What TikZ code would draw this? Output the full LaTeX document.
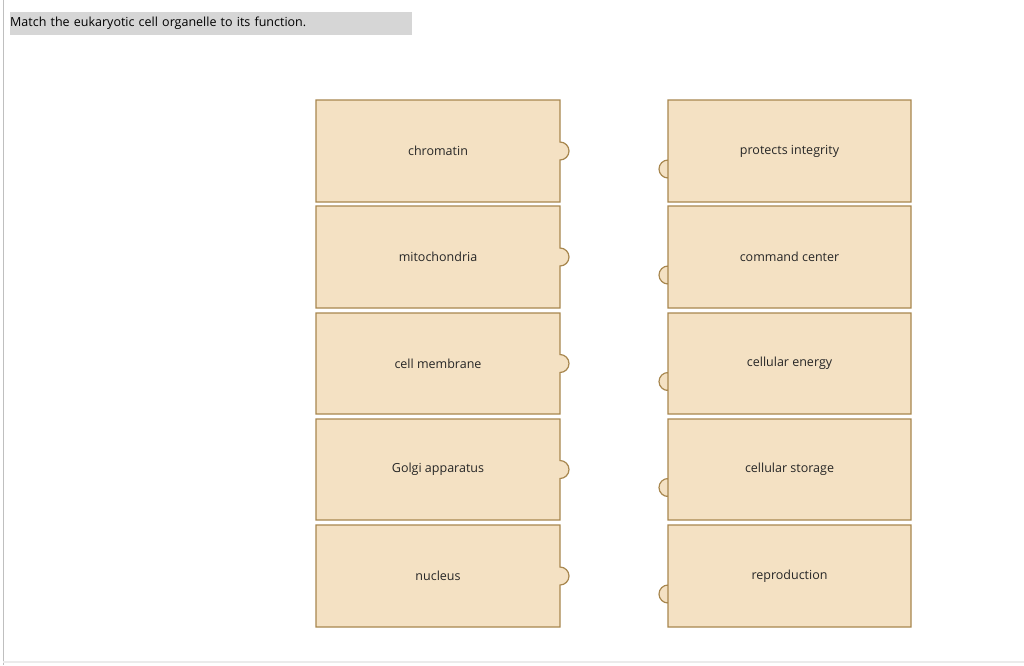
\documentclass[tikz,border=0pt]{standalone}
\usepackage{fontspec}
\setmainfont{Open Sans}
\definecolor{fillc}{HTML}{F4E1C3}
\definecolor{edgec}{HTML}{A8874F}
\definecolor{hl}{HTML}{D6D6D6}
\begin{document}
\begin{tikzpicture}[x=1pt,y=-1pt,
  piece/.style={fill=fillc,draw=edgec,line width=1.2pt},
  lbl/.style={font=\fontsize{12.5}{15}\selectfont,text=black!85}]
\useasboundingbox (0,0) rectangle (1024,665);
\fill[white] (0,0) rectangle (1024,665);
\draw[black!25,line width=1pt] (3,0) -- (3,665);
\draw[black!8,line width=2pt] (3,662) -- (1024,662);
\node[fill=hl,inner sep=0pt,minimum height=23pt,text width=402pt,align=left,anchor=west,font=\fontsize{12.5}{15}\selectfont] (title) at (10,23.5) {Match the eukaryotic cell organelle to its function.};
\foreach \t/\b/\l/\r [count=\i] in {100/202/chromatin/protects integrity,206/308/mitochondria/command center,313/414/cell membrane/cellular energy,419/520/Golgi apparatus/cellular storage,525/627/nucleus/reproduction}{
  \pgfmathsetmacro{\m}{(\t+\b)/2}
  \draw[piece] (316,\t) -- (560,\t) -- (560,\m-9) arc[start angle=-90,end angle=90,radius=9] -- (560,\b) -- (316,\b) -- cycle;
  \draw[piece] (668,\t) -- (911,\t) -- (911,\b) -- (668,\b) -- (668,\m+9) arc[start angle=270,end angle=90,radius=9] -- cycle;
  \node[lbl] (L\i) at (438,\m) {\l};
  \node[lbl] (R\i) at (789.5,\m) {\r};
}
\end{tikzpicture}
\end{document}
